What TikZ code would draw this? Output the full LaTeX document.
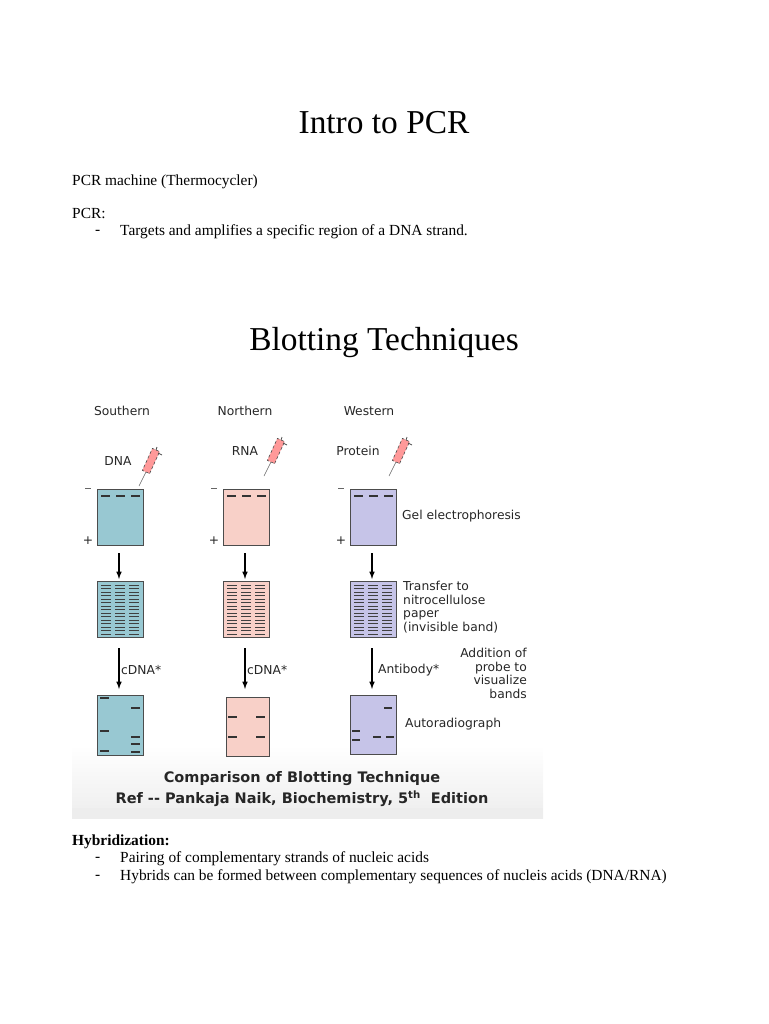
\documentclass[tikz,border=0pt]{standalone}
\usepackage{fontspec}
\setmainfont{Liberation Serif}
\newfontfamily\figfont{DejaVu Sans}
\begin{document}
\begin{tikzpicture}[x=1pt,y=-1pt,
  body/.style={anchor=west,font=\fontsize{15.4}{17}\selectfont,inner sep=0},
  ttl/.style={font=\fontsize{33.4}{36}\selectfont,inner sep=0},
  fl/.style={font=\figfont\fontsize{12.3}{13.6}\selectfont,inner sep=0,text=black!85},
  band/.style={line width=1.6pt,black!80},
  arr/.style={line width=1.5pt,-latex}]
\useasboundingbox (0,0) rectangle (768,1024);
\node[ttl] (t1) at (384,123) {Intro to PCR};
\node[body] (b1) at (72,182) {PCR machine (Thermocycler)};
\node[body] (b2) at (72,214) {PCR:};
\node[body] (b3) at (95,232) {-};
\node[body] (b4) at (120,232) {Targets and amplifies a specific region of a DNA strand.};
\node[ttl] (t2) at (384,343) {Blotting Techniques};
% figure background
\shade[top color=white,bottom color=black!7] (72,745) rectangle (543,818);
\fill[black!7] (72,808) rectangle (543,818);
\node[fl] (ls) at (122,411) {Southern};
\node[fl] (ln) at (245,411) {Northern};
\node[fl] (lw) at (369,411) {Western};
\definecolor{sC}{HTML}{98C8D2}
\definecolor{nC}{HTML}{F8D0C8}
\definecolor{wC}{HTML}{C6C4E8}
\node[fl] (sDNA) at (118,461) {DNA};
\node[fl] (sRNA) at (245,451) {RNA};
\node[fl] (sPro) at (358,451) {Protein};
% pipettes
\foreach \bx/\by in {146/472,271/462,396/462}{
  \draw[black!60,line width=0.5pt] (\bx,\by) -- ++(-7,14);
  \filldraw[fill=red!40,draw=black!70,densely dashed,line width=0.6pt]
    (\bx+3.6,\by+1.6) -- (\bx+13.6,\by-20.4) -- (\bx+6.4,\by-23.6) -- (\bx-3.6,\by-1.6) -- cycle;
  \draw[black!70,line width=0.8pt] (\bx+10,\by-22) -- ++(1,-3) (\bx+12,\by-19) -- ++(4,2);
}
% gels
\foreach \gx/\c in {97/sC,223/nC,350/wC}{
  \fill[\c,draw=black!70,line width=0.8pt] (\gx,489) rectangle ++(46,56);
  \foreach \d in {0,15,30}{\draw[band] (\gx+4+\d,496) -- ++(9,0);}
  \draw[black!60,line width=0.6pt] (\gx-12,488) -- ++(6,0);
  \node[fl] at (\gx-9,541) {+};
  \draw[arr] (\gx+22,553) -- (\gx+22,579);
  \fill[\c,draw=black!70,line width=0.8pt] (\gx,581) rectangle ++(46,56);
  \foreach \lx in {4,18,32}{
    \foreach \ly in {585,588.5,...,634}{\draw[line width=1pt,black!75] (\gx+\lx,\ly) -- ++(10,0);}
  }
  \draw[arr] (\gx+22,648) -- (\gx+22,689);
}
\node[fl,anchor=west] (gelE) at (402,516) {Gel electrophoresis};
\node[fl,anchor=north west,align=left] (tr) at (403,581) {Transfer to\\nitrocellulose\\paper\\(invisible band)};
\node[fl,anchor=west] (c1) at (121,670) {cDNA*};
\node[fl,anchor=west] (c2) at (247,670) {cDNA*};
\node[fl,anchor=west] (ab) at (378,670) {Antibody*};
\node[fl,anchor=north east,align=right] (add) at (527,648) {Addition of\\probe to\\visualize\\bands};
\node[fl,anchor=west] (auto) at (405,724) {Autoradiograph};
% final gels
\fill[sC,draw=black!70,line width=0.8pt] (97,695) rectangle (143,755);
\foreach \bx/\by in {100/698,131/708,100/731,131/737,131/744,131/752,100/751}{\draw[band] (\bx,\by) -- ++(9,0);}
\fill[nC,draw=black!70,line width=0.8pt] (226,697) rectangle (269,756);
\foreach \bx/\by in {228/717,256/717,228/737,256/737}{\draw[band] (\bx,\by) -- ++(9,0);}
\fill[wC,draw=black!70,line width=0.8pt] (350,695) rectangle (396,754);
\foreach \bx/\by in {384/708,352/731,352/740,373/737,386/737}{\draw[band] (\bx,\by) -- ++(8,0);}
\node[fl,font=\figfont\bfseries\fontsize{14.5}{16}\selectfont] (cap1) at (302,779) {Comparison of Blotting Technique};
\node[fl,font=\figfont\bfseries\fontsize{14.5}{16}\selectfont] (cap2) at (302,799) {Ref -- Pankaja Naik, Biochemistry, 5\textsuperscript{th}\ \ Edition};
\node[body,font=\bfseries\fontsize{15.4}{17}\selectfont] (h) at (72,842) {Hybridization:};
\node[body] at (95,859) {-};
\node[body] (h1) at (120,859) {Pairing of complementary strands of nucleic acids};
\node[body] at (95,877) {-};
\node[body] (h2) at (120,877) {Hybrids can be formed between complementary sequences of nucleis acids (DNA/RNA)};
\end{tikzpicture}
\end{document}
